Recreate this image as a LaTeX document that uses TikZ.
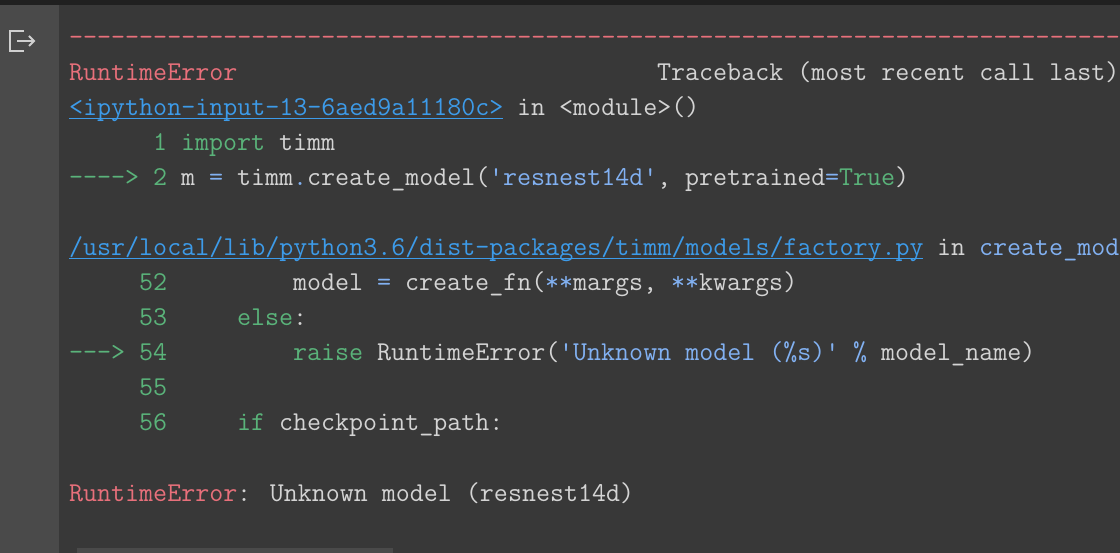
\documentclass[tikz,border=0pt]{standalone}
\usepackage{fontspec}
\newfontfamily\cm{Latin Modern Mono}
\definecolor{bgc}{HTML}{383838}
\definecolor{gut}{HTML}{4A4A4A}
\definecolor{topc}{HTML}{202020}
\definecolor{redc}{HTML}{E8707B}
\definecolor{grnc}{HTML}{5AB37A}
\definecolor{bluc}{HTML}{82B1F2}
\definecolor{lnk}{HTML}{3D9BE9}
\definecolor{txt}{HTML}{D4D4D4}
\definecolor{icon}{HTML}{D0D0D0}
\newcommand{\tk}[4]{\node[tok,text=#3] at ({69+14*#1},{-(#2+8)}) {#4};}
\tikzset{tok/.style={anchor=base west,inner sep=0pt,font=\cm\fontsize{27.2}{30}\selectfont}}
\begin{document}
\begin{tikzpicture}[x=1pt,y=1pt]
\useasboundingbox (0,0) rectangle (1120,-553);
\fill[bgc] (0,0) rectangle (1120,-553);
\fill[gut] (0,0) rectangle (59,-553);
\fill[topc] (0,0) rectangle (1120,-5);
\fill[gut] (77,-548) rectangle (393,-553);
% icon
\draw[icon,line width=2.5pt] (24,-31) -- (10,-31) -- (10,-51) -- (24,-51);
\draw[icon,line width=2pt] (17,-41) -- (34,-41);
\draw[icon,line width=2pt] (29,-36) -- (34,-41) -- (29,-46);
\begin{scope}
\clip (0,0) rectangle (1120,-553);
\tk{0}{38}{redc}{----------------------------------------------------------------------------}
\tk{0}{73}{redc}{RuntimeError}
\tk{42}{73}{txt}{Traceback (most recent call last)}
\tk{0}{108}{lnk}{<ipython-input-13-6aed9a11180c>}
\draw[lnk,line width=1pt] (69,-119) -- ({69+14*31},-119);
\tk{32}{108}{txt}{in <module>()}
\tk{6}{143}{grnc}{1}
\tk{8}{143}{grnc}{import}
\tk{15}{143}{txt}{timm}
\tk{0}{178}{grnc}{---->}
\tk{6}{178}{grnc}{2}
\tk{8}{178}{txt}{m}
\tk{10}{178}{bluc}{=}
\tk{12}{178}{txt}{timm}
\tk{16}{178}{bluc}{.}
\tk{17}{178}{txt}{create\_model(}
\tk{30}{178}{bluc}{'resnest14d'}
\tk{42}{178}{txt}{, pretrained}
\tk{54}{178}{bluc}{=}
\tk{55}{178}{grnc}{True}
\tk{59}{178}{txt}{)}
\tk{0}{248}{lnk}{/usr/local/lib/python3.6/dist-packages/timm/models/factory.py}
\draw[lnk,line width=1pt] (69,-259) -- ({69+14*61},-259);
\tk{62}{248}{txt}{in}
\tk{65}{248}{bluc}{create\_model()}
\tk{5}{283}{grnc}{52}
\tk{16}{283}{txt}{model}
\tk{22}{283}{bluc}{=}
\tk{24}{283}{txt}{create\_fn(}
\tk{34}{283}{bluc}{**}
\tk{36}{283}{txt}{margs,}
\tk{43}{283}{bluc}{**}
\tk{45}{283}{txt}{kwargs)}
\tk{5}{318}{grnc}{53}
\tk{12}{318}{grnc}{else}
\tk{16}{318}{txt}{:}
\tk{0}{353}{grnc}{--->}
\tk{5}{353}{grnc}{54}
\tk{16}{353}{grnc}{raise}
\tk{22}{353}{txt}{RuntimeError(}
\tk{35}{353}{bluc}{'Unknown model (\%s)'}
\tk{56}{353}{bluc}{\%}
\tk{58}{353}{txt}{model\_name)}
\tk{5}{388}{grnc}{55}
\tk{5}{423}{grnc}{56}
\tk{12}{423}{grnc}{if}
\tk{15}{423}{txt}{checkpoint\_path:}
\tk{0}{493}{redc}{RuntimeError}
\tk{12}{493}{txt}{: Unknown model (resnest14d)}
\end{scope}
\end{tikzpicture}
\end{document}
